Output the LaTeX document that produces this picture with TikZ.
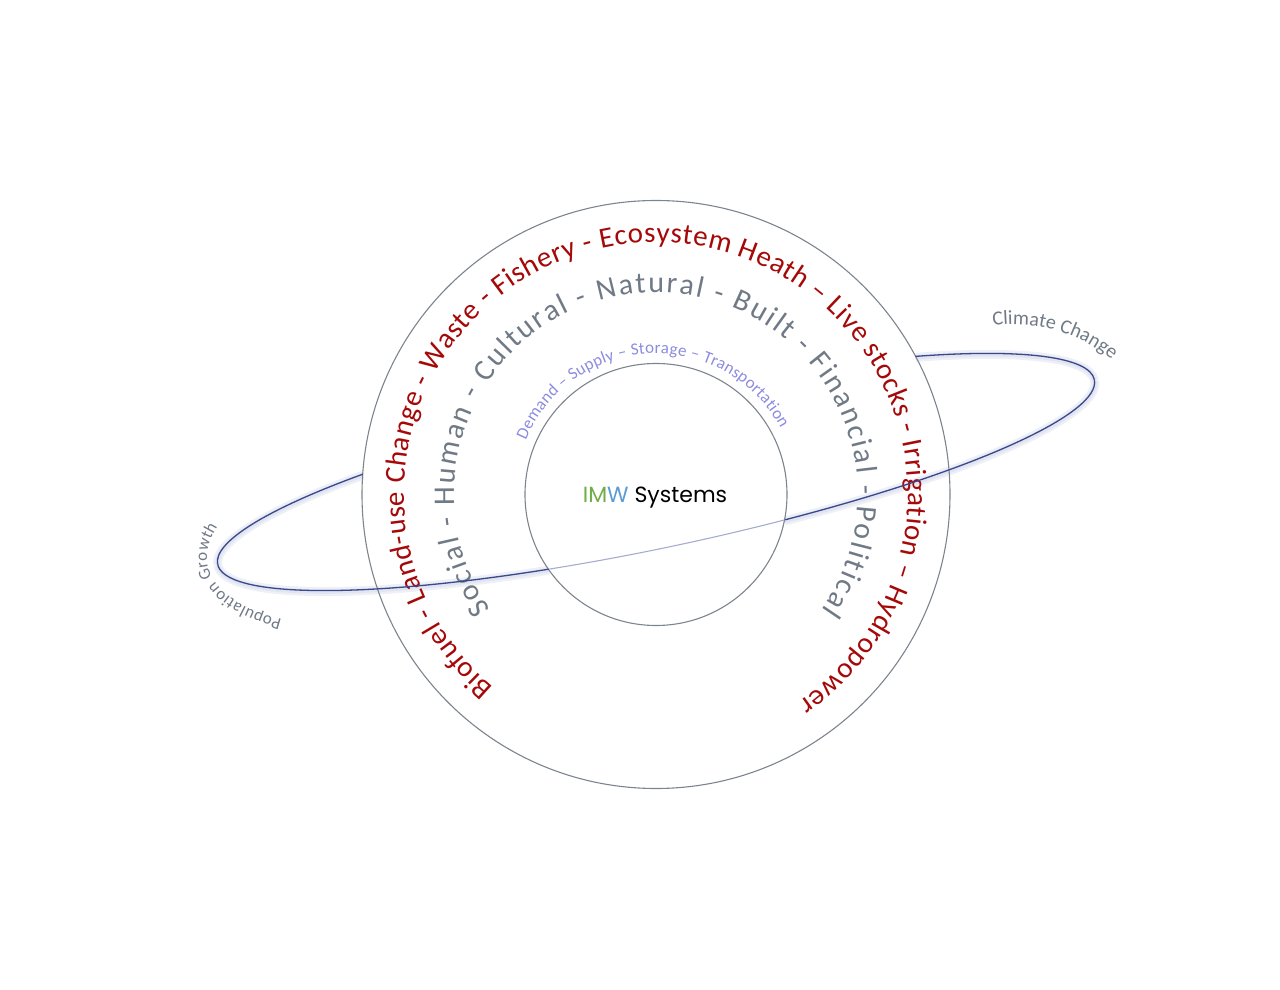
\documentclass[tikz,border=0pt]{standalone}
\usepackage{fontspec}
\setmainfont{Carlito}
\newfontfamily\gothic{Poppins}
\usetikzlibrary{decorations.text}
\definecolor{ringred}{RGB}{165,8,8}
\definecolor{ringgray}{RGB}{112,122,134}
\definecolor{ringblue}{RGB}{140,140,222}
\definecolor{orbit}{RGB}{58,72,140}
\definecolor{orbitfade}{RGB}{165,172,205}
\definecolor{orbitglow}{RGB}{238,240,247}
\definecolor{orbitglowin}{RGB}{226,229,241}
\definecolor{planet}{RGB}{125,132,142}
\definecolor{imwgreen}{RGB}{112,173,71}
\definecolor{imwblue}{RGB}{91,155,213}

\begin{document}
\begin{tikzpicture}[x=1pt,y=1pt,
    ring/.style={draw=planet, line width=1.1pt},
    orbitline/.style={draw=orbit, line width=1.3pt},
    glow/.style={draw=orbitglow, line width=9pt, yshift=-1pt},
    glowin/.style={draw=orbitglowin, line width=4.5pt, yshift=-1pt},
    arctext/.style={decorate, decoration={text along path, text align={fit to path}, text={#1}}}]
    \useasboundingbox (0,0) rectangle (1280,989);
    \coordinate (O) at (656,494.5);
    \coordinate (C) at (656,517);

    % soft shadow of the orbit, under the texts
    \begin{scope}[shift={(C)}, rotate=11.9]
        \foreach \s/\e in {0/51.7, 129.9/180, 180/253.8, 285/360} {
            \draw[glow] (\s:448 and 76) arc[start angle=\s, end angle=\e, x radius=448, y radius=76];
            \draw[glowin] (\s:448 and 76) arc[start angle=\s, end angle=\e, x radius=448, y radius=76];
        }
    \end{scope}

    \draw[ring] (O) circle (294);
    \draw[ring] (O) circle (131);
    \node[font=\gothic\fontsize{22}{26}\selectfont, anchor=base] (core) at (655,486)
        {\textcolor{imwgreen}{IM}\textcolor{imwblue}{W} Systems};

    \path[arctext={|\fontsize{29}{34}\selectfont\color{ringred}|Biofuel - Land-use Change - Waste - Fishery - Ecosystem Heath – Live stocks - Irrigation – Hydropower}]
        ([shift={(229.8:252)}]O) arc[start angle=229.8, end angle=-55.5, radius=252];
    \path[arctext={|\fontsize{30}{35}\selectfont\color{ringgray}|Social - Human - Cultural - Natural - Built - Financial - Political}]
        ([shift={(214.8:202)}]O) arc[start angle=214.8, end angle=-35, radius=202];
    \path[arctext={|\fontsize{17}{20}\selectfont\color{ringblue}|Demand – Supply – Storage – Transportation}]
        ([shift={(157.4:141)}]O) arc[start angle=157.4, end angle=27.9, radius=141];
    \path[arctext={|\fontsize{20}{24}\selectfont\color{ringgray}|Climate Change}]
        (993,663) arc[start angle=98, end angle=50, radius=152];

    % orbit, with its back half hidden by the planet
    \begin{scope}[shift={(C)}, rotate=11.9]
        \foreach \s/\e in {0/51.7, 129.9/180, 180/253.8, 285/360}
            \draw[orbitline] (\s:448 and 76) arc[start angle=\s, end angle=\e, x radius=448, y radius=76];
        \draw[orbitline, draw=orbitfade, line width=1.1pt] (253.8:448 and 76) arc[start angle=253.8, end angle=285, x radius=448, y radius=76];

        \path[arctext={|\fontsize{17}{21}\selectfont\color{ringgray}|Population Growth}]
            (210:458 and 135) arc[start angle=210, end angle=164, x radius=458, y radius=135];
    \end{scope}
\end{tikzpicture}
\end{document}
